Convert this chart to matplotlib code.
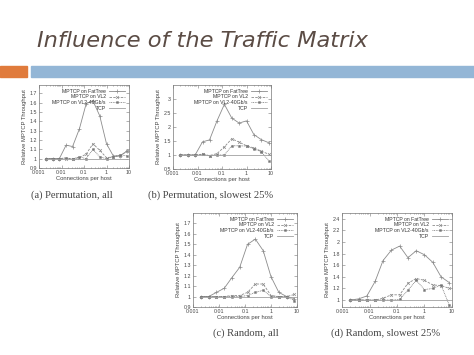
import matplotlib
matplotlib.use("Agg")
from matplotlib import pyplot as plt
from matplotlib.ticker import LogLocator, NullFormatter, FixedLocator

W, H = 474, 355

# connections per host
conns = [0.002, 0.004, 0.008, 0.016, 0.031, 0.0625, 0.125, 0.25, 0.5, 1, 2, 4, 8]

# (a) Permutation, all
a_fattree = [1.0, 1.0, 1.0, 1.145, 1.13, 1.32, 1.59, 1.62, 1.46, 1.16, 1.03, 1.03, 1.08]
a_vl2 = [1.0, 1.0, 1.0, 1.0, 1.0, 1.01, 1.05, 1.16, 1.09, 1.01, 1.02, 1.03, 1.08]
a_vl2_40 = [1.0, 1.0, 1.0, 1.01, 0.995, 1.02, 1.0, 1.1, 1.02, 1.0, 1.02, 1.04, 1.03]

# (b) Permutation, slowest 25%
b_fattree = [1.0, 1.0, 1.0, 1.47, 1.54, 2.22, 2.81, 2.32, 2.14, 2.22, 1.73, 1.55, 1.44]
b_vl2 = [1.0, 1.0, 1.0, 1.02, 0.98, 1.05, 1.29, 1.58, 1.46, 1.33, 1.25, 1.14, 1.03]
b_vl2_40 = [1.0, 1.0, 1.0, 1.03, 0.97, 1.0, 1.0, 1.33, 1.33, 1.32, 1.22, 1.12, 0.8]

# (c) Random, all
c_fattree = [1.0, 1.0, 1.04, 1.08, 1.18, 1.28, 1.5, 1.55, 1.44, 1.19, 1.04, 1.0, 0.98]
c_vl2 = [1.0, 1.0, 1.0, 1.0, 1.01, 1.01, 1.04, 1.12, 1.12, 1.01, 1.0, 1.0, 1.02]
c_vl2_40 = [1.0, 1.0, 1.0, 1.0, 1.0, 1.0, 1.01, 1.04, 1.06, 1.0, 1.0, 1.0, 0.96]

# (d) Random, slowest 25%
d_fattree = [1.0, 1.02, 1.07, 1.32, 1.68, 1.86, 1.93, 1.73, 1.85, 1.78, 1.65, 1.4, 1.3]
d_vl2 = [1.0, 1.0, 1.0, 1.0, 1.03, 1.09, 1.09, 1.29, 1.37, 1.34, 1.26, 1.25, 1.2]
d_vl2_40 = [1.0, 1.0, 1.0, 1.0, 1.0, 1.0, 1.01, 1.17, 1.34, 1.18, 1.2, 1.26, 0.91]

tcp = [1.0] * len(conns)

labels = ["MPTCP on FatTree", "MPTCP on VL2", "MPTCP on VL2-40Gb/s", "TCP"]

panels = [
    # box in pixels (left, top, right, bottom), ylim, yticks, caption, caption pos
    ((39, 85, 129, 168), (0.9, 1.79), [0.9, 1.0, 1.1, 1.2, 1.3, 1.4, 1.5, 1.6, 1.7],
     ["0.9", "1", "1.1", "1.2", "1.3", "1.4", "1.5", "1.6", "1.7"],
     a_fattree, a_vl2, a_vl2_40, "(a) Permutation, all", (72, 198)),
    ((173, 85, 271, 169), (0.5, 3.5), [0.5, 1, 1.5, 2, 2.5, 3],
     ["0.5", "1", "1.5", "2", "2.5", "3"],
     b_fattree, b_vl2, b_vl2_40, "(b) Permutation, slowest 25%", (211, 198)),
    ((193, 213, 297, 307), (0.9, 1.8), [0.9, 1.0, 1.1, 1.2, 1.3, 1.4, 1.5, 1.6, 1.7],
     ["0.9", "1", "1.1", "1.2", "1.3", "1.4", "1.5", "1.6", "1.7"],
     c_fattree, c_vl2, c_vl2_40, "(c) Random, all", (246, 336)),
    ((342, 213, 452, 307), (0.88, 2.5), [1, 1.2, 1.4, 1.6, 1.8, 2, 2.2, 2.4],
     ["1", "1.2", "1.4", "1.6", "1.8", "2", "2.2", "2.4"],
     d_fattree, d_vl2, d_vl2_40, "(d) Random, slowest 25%", (386, 336)),
]

fig = plt.figure(figsize=(W / 100, H / 100), dpi=100)
fig.patch.set_facecolor("white")

# title and header bar
fig.text(37 / W, 1 - 47 / H, "Influence of the Traffic Matrix", fontsize=16.2,
         style="italic", family="DejaVu Sans", color="#5b4c45", va="baseline")
fig.patches.append(plt.Rectangle((0, 1 - 77 / H), 27 / W, 11 / H,
                                 transform=fig.transFigure, color="#e07b3c"))
fig.patches.append(plt.Rectangle((31 / W, 1 - 77 / H), 1 - 31 / W, 11 / H,
                                 transform=fig.transFigure, color="#93b6d6"))

small = dict(family="Liberation Sans", color="#444444")

for box, ylim, yt, ytl, ft, vl2, vl2_40, cap, cpos in panels:
    l, t, r, b = box
    ax = fig.add_axes([l / W, 1 - b / H, (r - l) / W, (b - t) / H])
    ax.plot(conns, ft, color="#8c8c8c", lw=0.6, marker="+", ms=2.5, mew=0.5, label=labels[0])
    ax.plot(conns, vl2, color="#8c8c8c", lw=0.6, ls=(0, (3, 1.5)), marker="x", ms=2, mew=0.5,
            label=labels[1])
    ax.plot(conns, vl2_40, color="#777777", lw=0.6, ls=(0, (1, 1)), marker="s", ms=1.4,
            mew=0.3, label=labels[2])
    ax.plot(conns, tcp, color="#a0a0a0", lw=0.6, label=labels[3])
    ax.set_xscale("log")
    ax.set_xlim(0.001, 10)
    ax.set_ylim(*ylim)
    ax.xaxis.set_major_locator(FixedLocator([0.001, 0.01, 0.1, 1, 10]))
    ax.set_xticklabels(["0.001", "0.01", "0.1", "1", "10"])
    ax.xaxis.set_minor_locator(LogLocator(base=10, subs=range(2, 10)))
    ax.xaxis.set_minor_formatter(NullFormatter())
    ax.set_yticks(yt)
    ax.set_yticklabels(ytl)
    ax.tick_params(which="both", direction="in", top=True, right=True, color="#777777",
                   width=0.4, labelsize=3.8, pad=1.5, labelcolor="#444444")
    ax.tick_params(which="major", length=2)
    ax.tick_params(which="minor", length=1)
    for lab in ax.get_xticklabels() + ax.get_yticklabels():
        lab.set_family("Liberation Sans")
    for sp in ax.spines.values():
        sp.set_color("#777777")
        sp.set_linewidth(0.5)
    ax.set_xlabel("Connections per host", fontsize=4.2, labelpad=0.5, **small)
    ax.set_ylabel("Relative MPTCP Throughput", fontsize=4.2, labelpad=1.5, **small)
    leg = ax.legend(loc="upper right", markerfirst=False, frameon=False,
                    prop={"family": "Liberation Sans", "size": 3.7},
                    handlelength=3.2, labelspacing=0.15, borderaxespad=0.3,
                    handletextpad=0.6)
    for txt in leg.get_texts():
        txt.set_color("#333333")
    fig.text(cpos[0] / W, 1 - cpos[1] / H, cap, fontsize=7.6, family="Liberation Serif",
             color="#444444", ha="center", va="baseline")

fig.savefig("out.png", dpi=100)
